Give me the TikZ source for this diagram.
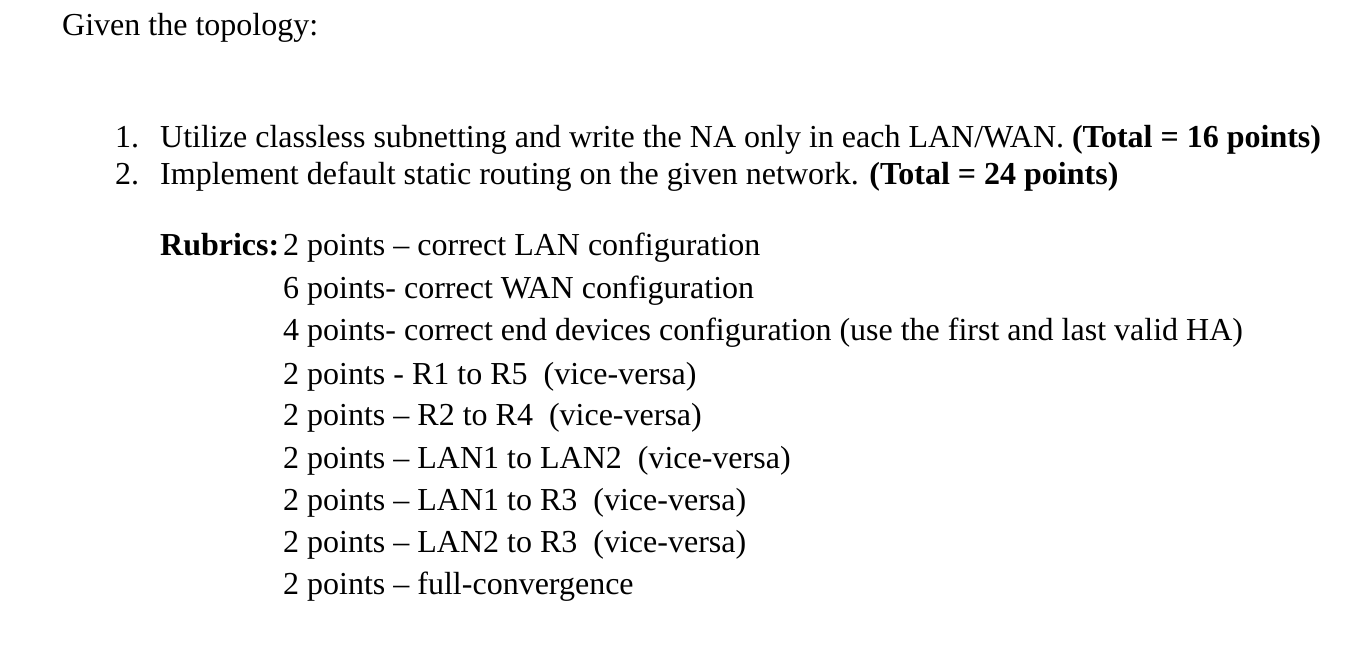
\documentclass[tikz,border=0pt]{standalone}
\usepackage{fontspec}
\setmainfont{Liberation Serif}
\begin{document}
\begin{tikzpicture}[x=1pt,y=-1pt,txt/.style={anchor=base west,inner sep=0pt,font=\fontsize{32}{38}\selectfont}]
\useasboundingbox[fill=white] (0,0) rectangle (1362,654);
\node[txt] (g) at (62,35) {Given the topology:};
\node[txt] (n1) at (115,147) {1.};
\node[txt] (i1) at (160,147) {Utilize classless subnetting and write the NA only in each LAN/WAN. \textbf{(Total = 16 points)}};
\node[txt] (n2) at (115,184) {2.};
\node[txt] (i2) at (160,184) {Implement default static routing on the given network. \textbf{(Total = 24 points)}};
\node[txt] (rb) at (160,255) {\textbf{Rubrics:}};
\node[txt] (r1) at (283,255) {2 points – correct LAN configuration};
\node[txt] (r2) at (283,298) {6 points- correct WAN configuration};
\node[txt] (r3) at (283,340) {4 points- correct end devices configuration (use the first and last valid HA)};
\node[txt] (r4) at (283,384) {2 points - R1 to R5\ \ (vice-versa)};
\node[txt] (r5) at (283,425) {2 points – R2 to R4\ \ (vice-versa)};
\node[txt] (r6) at (283,468) {2 points – LAN1 to LAN2\ \ (vice-versa)};
\node[txt] (r7) at (283,510) {2 points – LAN1 to R3\ \ (vice-versa)};
\node[txt] (r8) at (283,552) {2 points – LAN2 to R3\ \ (vice-versa)};
\node[txt] (r9) at (283,594) {2 points – full-convergence};
\end{tikzpicture}
\end{document}
